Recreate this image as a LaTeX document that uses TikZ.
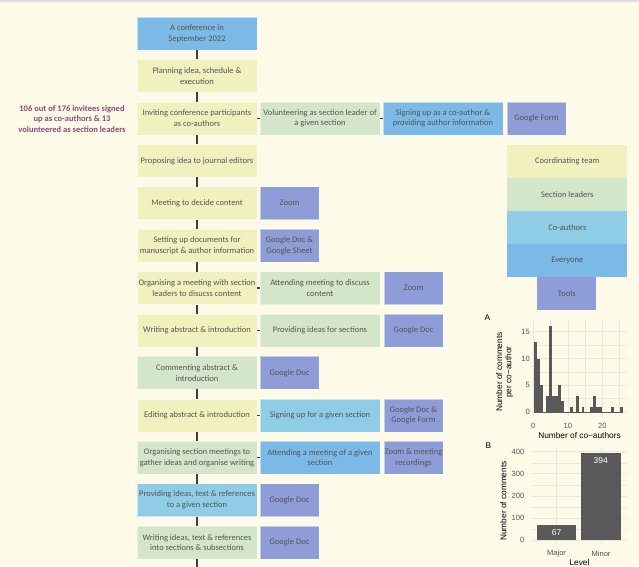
\documentclass[tikz,border=0pt]{standalone}
\usepackage{fontspec}
\setmainfont{Carlito}
\newfontfamily\chartfont{Liberation Sans}
\definecolor{bg}{HTML}{FDFAE8}
\definecolor{cyel}{HTML}{F0F1BE}
\definecolor{cgrn}{HTML}{D3E6C9}
\definecolor{clblue}{HTML}{8FCCE6}
\definecolor{cblue}{HTML}{7BB9E7}
\definecolor{cpurp}{HTML}{8E9CD8}
\definecolor{txt}{HTML}{555555}
\definecolor{lin}{HTML}{3F3F3F}
\definecolor{note}{HTML}{8B4A7E}
\definecolor{grid}{HTML}{E9E8E0}
\definecolor{barc}{HTML}{595959}
\definecolor{tick}{HTML}{555555}
\tikzset{
  bx/.style={minimum width=120pt, minimum height=33pt, inner sep=0pt, outer sep=0pt,
    align=center, font=\fontsize{8.5}{10.7}\selectfont, text=txt,
    draw=white, draw opacity=0.5, line width=0.5pt},
  nar/.style={bx, minimum width=59pt},
  leg/.style={bx, draw=none},
  conn/.style={line width=1.3pt, draw=lin},
  gmaj/.style={draw=grid, line width=0.6pt},
  gmin/.style={draw=grid, line width=0.35pt},
  ticklab/.style={font=\chartfont\fontsize{7.6}{8}\selectfont, text=tick, inner sep=0pt},
  axtitle/.style={font=\chartfont\fontsize{8.3}{9.3}\selectfont, text=black, inner sep=0pt, align=center},
}
\begin{document}
\begin{tikzpicture}[x=1pt,y=-1pt]
\useasboundingbox (0,0) rectangle (639,566);
\fill[bg] (0,0) rectangle (639,566);
\fill[gray!25] (0,0) rectangle (639,1.5);

% main column
\node[bx,fill=cblue] (r1) at (197,33.5) {A conference in\\September 2022};
\node[bx,fill=cyel] (r2) at (197,75.9) {Planning idea, schedule \&\\execution};
\node[bx,fill=cyel] (r3) at (197,118.3) {Inviting conference participants\\as co-authors};
\node[bx,fill=cyel] (r4) at (197,160.8) {Proposing idea to journal editors};
\node[bx,fill=cyel] (r5) at (197,203.2) {Meeting to decide content};
\node[bx,fill=cyel] (r6) at (197,245.6) {Setting up documents for\\manuscript \& author information};
\node[bx,fill=cyel] (r7) at (197,288.0) {Organising a meeting with section\\leaders to disucss content};
\node[bx,fill=cyel] (r8) at (197,330.5) {Writing abstract \& introduction};
\node[bx,fill=cgrn] (r9) at (197,372.9) {Commenting abstract \&\\introduction};
\node[bx,fill=cyel] (r10) at (197,415.3) {Editing abstract \& introduction};
\node[bx,fill=cgrn] (r11) at (197,457.7) {Organising section meetings to\\gather ideas and organise writing};
\node[bx,fill=clblue] (r12) at (197,500.1) {Providing ideas, text \& references\\to a given section};
\node[bx,fill=cgrn] (r13) at (197,542.5) {Writing ideas, text \& references\\into sections \& subsections};
\coordinate (end) at (197,570);

% side boxes
\node[bx,fill=cgrn] (v3) at (320,118.3) {Volunteering as section leader of\\a given section};
\node[bx,fill=cblue] (s3) at (443,118.3) {Signing up as a co-author \&\\providing author information};
\node[nar,fill=cpurp] (t3) at (536.5,118.3) {Google Form};
\node[nar,fill=cpurp] (t5) at (289.5,203.2) {Zoom};
\node[nar,fill=cpurp] (t6) at (289.5,245.6) {Google Doc \&\\Google Sheet};
\node[bx,fill=cgrn] (a7) at (320,288.0) {Attending meeting to discuss\\content};
\node[nar,fill=cpurp] (t7) at (413.5,288.0) {Zoom};
\node[bx,fill=cgrn] (a8) at (320,330.5) {Providing ideas for sections};
\node[nar,fill=cpurp] (t8) at (413.5,330.5) {Google Doc};
\node[nar,fill=cpurp] (t9) at (289.5,372.9) {Google Doc};
\node[bx,fill=clblue] (a10) at (320,415.3) {Signing up for a given section};
\node[nar,fill=cpurp] (t10) at (413.5,415.3) {Google Doc \&\\Google Form};
\node[bx,fill=cblue] (a11) at (320,457.7) {Attending a meeting of a given\\section};
\node[nar,fill=cpurp] (t11) at (413.5,457.7) {Zoom \& meeting\\recordings};
\node[nar,fill=cpurp] (t12) at (289.5,500.1) {Google Doc};
\node[nar,fill=cpurp] (t13) at (289.5,542.5) {Google Doc};

% note
\node[align=center, text=note, font=\bfseries\fontsize{8.5}{10.7}\selectfont, inner sep=0pt] (note) at (72,119)
  {106 out of 176 invitees signed\\up as co-authors \& 13\\volunteered as section leaders};

% connectors
\foreach \a/\b in {r1/r2,r2/r3,r3/r4,r4/r5,r5/r6,r6/r7,r7/r8,r8/r9,r9/r10,r10/r11,r11/r12,r12/r13}
  \draw[conn] (\a.south) -- (\b.north);
\draw[conn] (r13.south) -- (end);
\foreach \a/\b in {r3/v3,v3/s3,r7/a7,r8/a8,r10/a10,r11/a11}
  \draw[conn] (\a.east) -- (\b.west);

% legend
\node[leg,fill=cyel] (L1) at (567.3,161.6) {Coordinating team};
\node[leg,fill=cgrn] (L2) at (567.3,194.6) {Section leaders};
\node[leg,fill=clblue] (L3) at (567.3,227.5) {Co-authors};
\node[leg,fill=cblue] (L4) at (567.3,260.4) {Everyone};
\node[nar,fill=cpurp,draw=none] (L5) at (566.8,293.4) {Tools};

% ---- chart A ----
\node[axtitle] (labA) at (487.5,318) {A};
\foreach \v in {2.5,7.5,12.5} \draw[gmin] (532,{412-5.35*\v}) -- (627,{412-5.35*\v});
\foreach \v in {5,15,25} \draw[gmin] ({533.3+3.45*\v},320) -- ({533.3+3.45*\v},416);
\foreach \v in {0,5,10,15} \draw[gmaj] (532,{412-5.35*\v}) -- (627,{412-5.35*\v});
\foreach \v in {0,10,20} \draw[gmaj] ({533.3+3.45*\v},320) -- ({533.3+3.45*\v},416);
\foreach \h [count=\i from 0] in {13,10,5,0,3,16,3,3,5,2,0,0,1,0,3,0,1,0,0,1,3,1,1,0,0,0,1,0,0,1}
  \fill[barc] ({534.3+2.95*\i},412) rectangle ({534.3+2.95*(\i+1)},{412-5.35*\h});
\draw[barc,line width=0.5pt] (534.3,411.8) -- (622.8,411.8);
\foreach \v in {0,5,10,15} \node[ticklab,anchor=east] (ay\v) at (530,{412-5.35*\v}) {\v};
\foreach \v in {0,10,20} \node[ticklab] (ax\v) at ({533.3+3.45*\v},425.5) {\v};
\node[axtitle] (axtA) at (579.5,436) {Number of co−authors};
\node[axtitle,rotate=90] (aytA) at (504.5,372) {Number of comments\\per co−author};

% ---- chart B ----
\node[axtitle] (labB) at (488.3,446) {B};
\foreach \v in {50,150,250,350} \draw[gmin] (532,{540-0.2208*\v}) -- (627,{540-0.2208*\v});
\foreach \v in {0,100,200,300,400} \draw[gmaj] (532,{540-0.2208*\v}) -- (627,{540-0.2208*\v});
\foreach \x in {556.3,600.8} \draw[gmaj] (\x,447) -- (\x,544);
\fill[barc] (536.7,540) rectangle (576,{540-0.2208*67});
\fill[barc] (581,540) rectangle (620.7,{540-0.2208*394});
\node[font=\chartfont\fontsize{8.5}{9}\selectfont, text=white, inner sep=0pt] (v67) at (556.5,532.5) {67};
\node[font=\chartfont\fontsize{8.5}{9}\selectfont, text=white, inner sep=0pt] (v394) at (600.8,460.5) {394};
\foreach \v in {0,100,200,300,400} \node[ticklab,anchor=east] (by\v) at (524.5,{540-0.2208*\v}) {\v};
\node[ticklab] (bxMaj) at (556.5,553.3) {Major};
\node[ticklab] (bxMin) at (601,553.3) {Minor};
\node[axtitle] (bxt) at (579.5,562.5) {Level};
\node[axtitle,rotate=90] (byt) at (503.5,501) {Number of comments};
\end{tikzpicture}
\end{document}
